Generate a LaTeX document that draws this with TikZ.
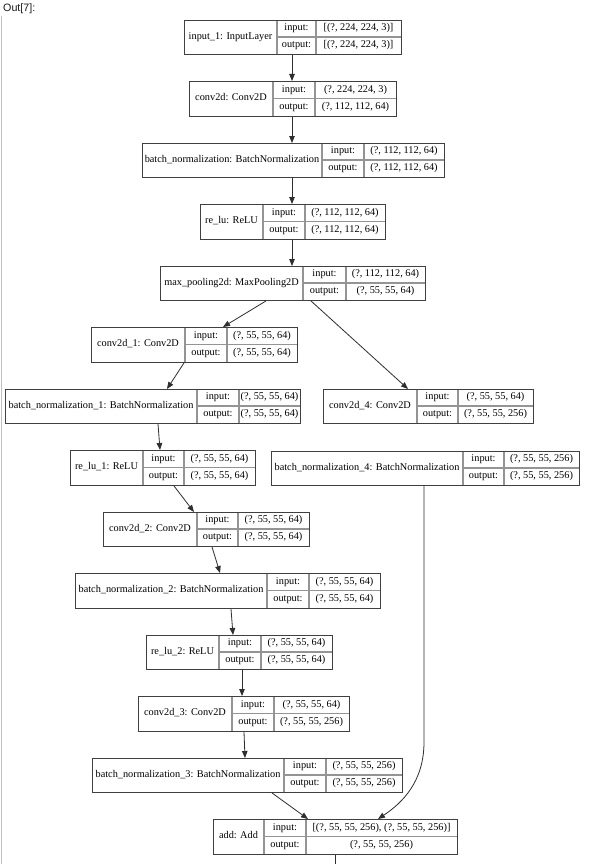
\documentclass[tikz,border=0pt]{standalone}
\usepackage{fontspec}
\setmainfont{Liberation Serif}
\newfontfamily\promptfont{Liberation Sans}
\usetikzlibrary{arrows.meta,calc}

\def\LYparse#1,#2,#3,#4\relax{\def\LYl{#1}\def\LYt{#2}\def\LYr{#3}\def\LYb{#4}}

% #1 name, #2 l,t,r,b, #3 divider 1, #4 divider 2, #5 label, #6 input, #7 output
\newcommand\LYlayer[7]{%
  \LYparse#2\relax
  \pgfmathsetmacro\LYw{\LYr-\LYl}%
  \pgfmathsetmacro\LYh{\LYb-\LYt}%
  \pgfmathsetmacro\LYm{(\LYt+\LYb)/2}%
  \pgfmathsetmacro\LYxa{(\LYl+#3)/2}%
  \pgfmathsetmacro\LYxb{(#3+#4)/2}%
  \pgfmathsetmacro\LYxc{(#4+\LYr)/2}%
  \pgfmathsetmacro\LYyi{(\LYt+\LYm)/2}%
  \pgfmathsetmacro\LYyo{(\LYm+\LYb)/2}%
  \draw[cellline] (#3,\LYt) -- (#3,\LYb) (#4,\LYt) -- (#4,\LYb) (#3,\LYm) -- (\LYr,\LYm);
  \node[layerbox, minimum width=\LYw pt, minimum height=\LYh pt] (#1) at (\LYl,\LYt) {};
  \node[txt] (#1-name) at (\LYxa,\LYm) {#5};
  \node[txt] (#1-in) at (\LYxb,\LYyi) {input:};
  \node[txt] (#1-out) at (\LYxb,\LYyo) {output:};
  \node[txt] (#1-inv) at (\LYxc,\LYyi) {#6};
  \node[txt] (#1-outv) at (\LYxc,\LYyo) {#7};
}

\begin{document}
\begin{tikzpicture}[x=1pt,y=-1pt,
  layerbox/.style={draw=black!75, line width=0.95pt, anchor=north west, inner sep=0pt},
  cellline/.style={draw=black!42, line width=1.4pt},
  txt/.style={inner sep=0pt, font=\fontsize{10.3}{12}\selectfont, text height=7.2pt, text depth=2.3pt, text=black},
  edge/.style={draw=black!82, line width=0.8pt, -{Triangle[length=7pt,width=5.5pt]}},
  plain/.style={draw=black!82, line width=0.8pt},
  prompt/.style={inner sep=0pt, font=\promptfont\fontsize{10.7}{12}\selectfont, text=black!90}
]
\useasboundingbox (0,0) rectangle (590,864);
\fill[white] (0,0) rectangle (590,864);

\node[prompt, anchor=base west] (prompt) at (3,12) {Out[7]:};
\draw[black!25, line width=1pt] (1.5,16) -- (1.5,864);

\LYlayer{in1}{184,20,401,54}{277}{316}{input\_1: InputLayer}{[(?, 224, 224, 3)]}{[(?, 224, 224, 3)]}
\LYlayer{c0}{189,81,396,116}{273}{315}{conv2d: Conv2D}{(?, 224, 224, 3)}{(?, 112, 112, 64)}
\LYlayer{bn0}{142,143,444,177}{322}{364}{batch\_normalization: BatchNormalization}{(?, 112, 112, 64)}{(?, 112, 112, 64)}
\LYlayer{r0}{200,204,385,239}{263}{305}{re\_lu: ReLU}{(?, 112, 112, 64)}{(?, 112, 112, 64)}
\LYlayer{mp}{160,266,425,300}{303}{346}{max\_pooling2d: MaxPooling2D}{(?, 112, 112, 64)}{(?, 55, 55, 64)}
\LYlayer{c1}{91,327,297,362}{185}{227}{conv2d\_1: Conv2D}{(?, 55, 55, 64)}{(?, 55, 55, 64)}
\LYlayer{bn1}{5,389,300,423}{197}{239}{batch\_normalization\_1: BatchNormalization}{(?, 55, 55, 64)}{(?, 55, 55, 64)}
\LYlayer{c4}{323,389,533,423}{417}{458}{conv2d\_4: Conv2D}{(?, 55, 55, 64)}{(?, 55, 55, 256)}
\LYlayer{r1}{70,450,255,485}{143}{184}{re\_lu\_1: ReLU}{(?, 55, 55, 64)}{(?, 55, 55, 64)}
\LYlayer{bn4}{271,451,579,485}{463}{504}{batch\_normalization\_4: BatchNormalization}{(?, 55, 55, 256)}{(?, 55, 55, 256)}
\LYlayer{c2}{103,512,309,546}{197}{238}{conv2d\_2: Conv2D}{(?, 55, 55, 64)}{(?, 55, 55, 64)}
\LYlayer{bn2}{75,573,380,608}{267}{309}{batch\_normalization\_2: BatchNormalization}{(?, 55, 55, 64)}{(?, 55, 55, 64)}
\LYlayer{r2}{146,635,332,669}{219}{261}{re\_lu\_2: ReLU}{(?, 55, 55, 64)}{(?, 55, 55, 64)}
\LYlayer{c3}{138,696,349,731}{232}{274}{conv2d\_3: Conv2D}{(?, 55, 55, 64)}{(?, 55, 55, 256)}
\LYlayer{bn3}{92,758,402,792}{284}{326}{batch\_normalization\_3: BatchNormalization}{(?, 55, 55, 256)}{(?, 55, 55, 256)}
\LYlayer{add}{213,819,457,854}{264}{306}{add: Add}{[(?, 55, 55, 256), (?, 55, 55, 256)]}{(?, 55, 55, 256)}

\coordinate (tail) at (335,864);

\draw[edge] (292,0 |- in1.south) -- (292,0 |- c0.north);
\draw[edge] (292,0 |- c0.south) -- (292,0 |- bn0.north);
\draw[edge] (292,0 |- bn0.south) -- (292,0 |- r0.north);
\draw[edge] (292,0 |- r0.south) -- (292,0 |- mp.north);
\draw[edge] (266,0 |- mp.south) -- (223,0 |- c1.north);
\draw[edge] (311,0 |- mp.south) -- (408,0 |- c4.north);
\draw[edge] (184,0 |- c1.south) -- (167,0 |- bn1.north);
\draw[edge] (158,0 |- bn1.south) -- (160,0 |- r1.north);
\draw[edge] (174,0 |- r1.south) -- (194,0 |- c2.north);
\draw[edge] (212,0 |- c2.south) -- (220,0 |- bn2.north);
\draw[edge] (231,0 |- bn2.south) -- (233,0 |- r2.north);
\draw[edge] (242,0 |- r2.south) -- (242,0 |- c3.north);
\draw[edge] (244,0 |- c3.south) -- (245,0 |- bn3.north);
\draw[edge] (272,0 |- bn3.south) -- (308,0 |- add.north);
\draw[edge] (424,0 |- bn4.south) -- (424,742) .. controls (424,782) and (402,803) .. (378,0 |- add.north);
\draw[plain] (335,0 |- add.south) -- (tail);
\end{tikzpicture}
\end{document}
